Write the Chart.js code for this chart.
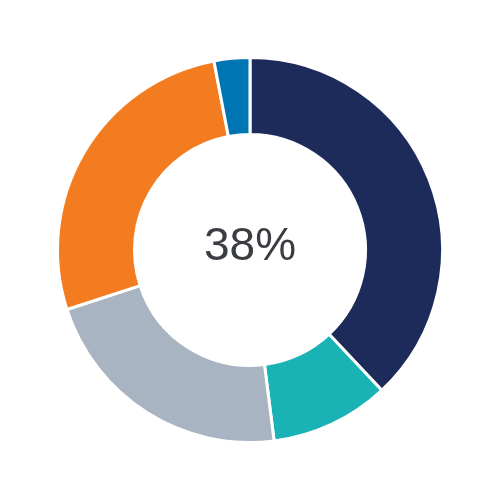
<!DOCTYPE html>
<html>
<head>
<meta charset="utf-8">
<script src="https://cdn.jsdelivr.net/npm/chart.js@4"></script>
<style>
  html, body { margin: 0; padding: 0; background: #ffffff; }
  #wrap { width: 500px; height: 500px; }
</style>
</head>
<body>
<div id="wrap"><canvas id="donut"></canvas></div>
<script>
const categories = ["A", "B", "C", "D", "E"];
const values = [38, 10, 22, 27, 3];
const colors = ["#1c2b5a", "#1ab3b5", "#a9b4c2", "#f47c20", "#0075b4"];

const total = values.reduce((t, v) => t + v, 0);
const centerLabel = Math.round(values[0] / total * 100) + "%";

const centerText = {
  id: "centerText",
  afterDraw(chart) {
    const meta = chart.getDatasetMeta(0).data[0];
    const ctx = chart.ctx;
    ctx.save();
    ctx.font = "46px 'Liberation Sans', Arial, sans-serif";
    ctx.fillStyle = "#3a3d42";
    ctx.textAlign = "center";
    ctx.textBaseline = "middle";
    ctx.fillText(centerLabel, meta.x, meta.y - 3);
    ctx.restore();
  }
};

new Chart(document.getElementById("donut"), {
  type: "doughnut",
  data: {
    labels: categories,
    datasets: [{
      data: values,
      backgroundColor: colors,
      borderColor: "#ffffff",
      borderWidth: 3
    }]
  },
  plugins: [centerText],
  options: {
    responsive: true,
    maintainAspectRatio: false,
    animation: false,
    cutout: "60%",
    layout: { padding: 56 },
    plugins: {
      legend: { display: false },
      tooltip: { enabled: false }
    }
  }
});
</script>
</body>
</html>
